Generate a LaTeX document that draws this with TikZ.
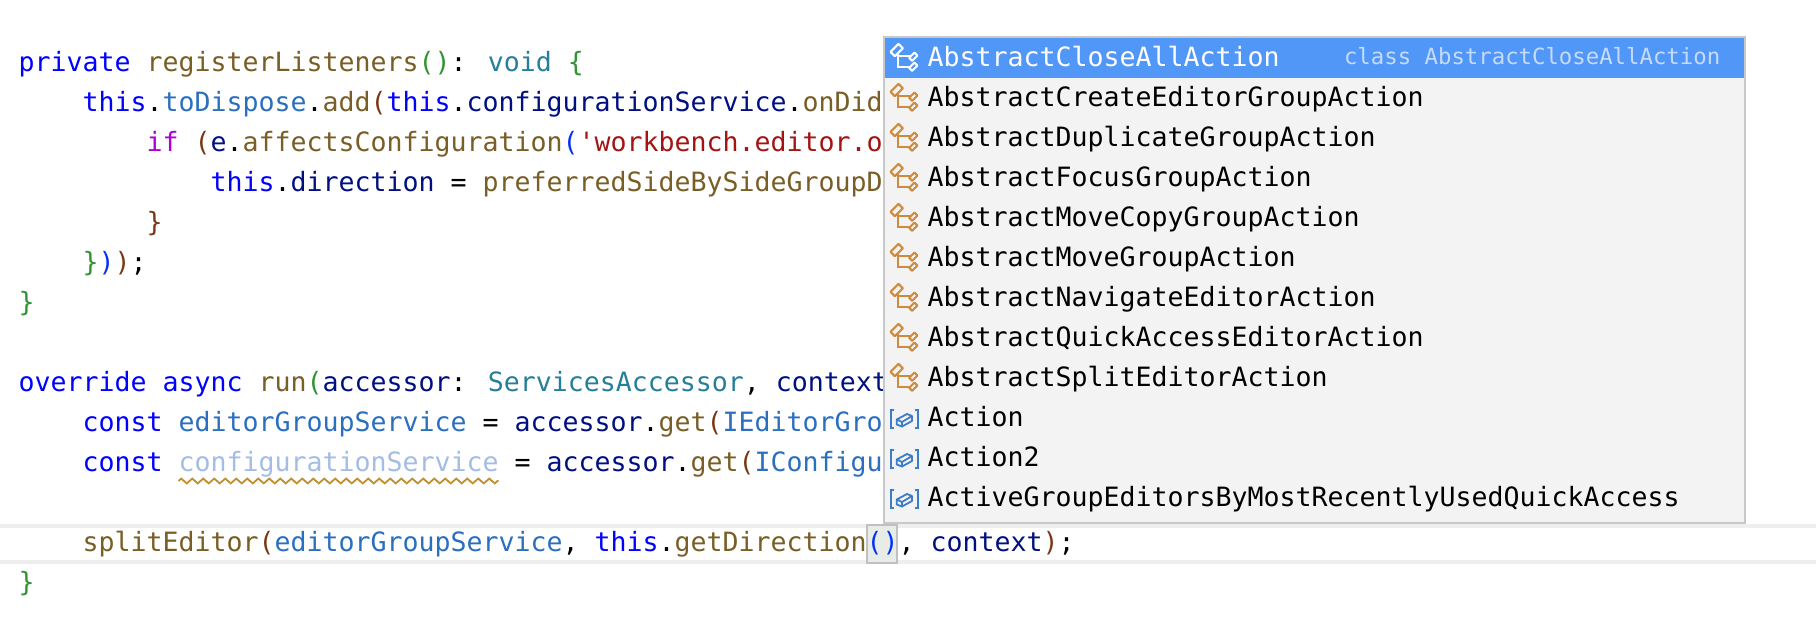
\documentclass[tikz,border=0pt]{standalone}
\usepackage{fontspec}
\usetikzlibrary{decorations.pathmorphing}
\newfontfamily\codefont{DejaVu Sans Mono}
\definecolor{kw}{HTML}{0000FF}
\definecolor{fn}{HTML}{795E26}
\definecolor{vr}{HTML}{001080}
\definecolor{pr}{HTML}{2B6FBF}
\definecolor{ty}{HTML}{267F99}
\definecolor{st}{HTML}{A31515}
\definecolor{pu}{HTML}{AF00DB}
\definecolor{bg}{HTML}{319331}
\definecolor{bb}{HTML}{0431FA}
\definecolor{br}{HTML}{7B3814}
\definecolor{fa}{HTML}{A3BDE3}
\definecolor{squig}{HTML}{BF8F30}
\definecolor{pnl}{HTML}{F3F3F3}
\definecolor{pbd}{HTML}{C8C8C8}
\definecolor{sel}{HTML}{5197F8}
\definecolor{sdt}{HTML}{C6DBFB}
\definecolor{cur}{HTML}{EEEEEE}
\definecolor{brb}{HTML}{E7ECE6}
\definecolor{brd}{HTML}{C0C0C0}
\definecolor{cls}{HTML}{CE8B3E}
\definecolor{mod}{HTML}{3B7DC8}
\newcommand{\kw}[1]{\textcolor{kw}{#1}}
\newcommand{\fn}[1]{\textcolor{fn}{#1}}
\newcommand{\vr}[1]{\textcolor{vr}{#1}}
\newcommand{\pr}[1]{\textcolor{pr}{#1}}
\newcommand{\ty}[1]{\textcolor{ty}{#1}}
\tikzset{
  x=0.5pt,y=-0.5pt,
  code/.style={anchor=base west,inner sep=0pt,outer sep=0pt,font=\fontsize{13.29pt}{16pt}\codefont,text=black},
  item/.style={code},
  clsicon/.pic={
    \draw[pic actions,line width=1.05pt,line join=round]
      (17.9,10.2) -- (13.5,5.8) -- (5.5,13.8) -- (9.9,18.2) -- cycle;
    \draw[pic actions,line width=1.05pt] (13.3,16.5) -- (13.3,28.7) -- (25,28.7) (13.3,17.7) -- (25.5,17.7);
    \draw[pic actions,line width=1.05pt,line join=round]
      (32.4,17.6) -- (29.4,14.6) -- (24.2,19.8) -- (27.2,22.8) -- cycle;
    \draw[pic actions,line width=1.05pt,line join=round]
      (32.4,27.6) -- (29.4,24.6) -- (24.2,29.8) -- (27.2,32.8) -- cycle;
  },
  modicon/.pic={
    \draw[pic actions,line width=1pt] (9,12.5) -- (5.5,12.5) -- (5.5,30) -- (9,30);
    \draw[pic actions,line width=1pt] (29.5,12.5) -- (33,12.5) -- (33,30) -- (29.5,30);
    \draw[pic actions,line width=.9pt,line join=round]
      (11.7,21.5) -- (22,16) -- (27,18) -- (27,23) -- (17,28.5) -- (11.7,26.5) -- cycle
      (11.7,21.5) -- (17,24) -- (27,18) (17,24) -- (17,28.5);
  }
}
\begin{document}
\begin{tikzpicture}
\useasboundingbox (0,0) rectangle (1816,624);
\fill[white] (0,0) rectangle (1816,624);
% current line
\fill[cur] (0,524) rectangle (1816,528);
\fill[cur] (0,560) rectangle (1816,564);
% code
\node[code] (l1) at (18.5,71.7) {\kw{private} \fn{registerListeners}\textcolor{bg}{()}: \ty{void} \textcolor{bg}{\{}};
\node[code] (l2) at (82.5,111.7) {\kw{this}.\pr{toDispose}.\fn{add}\textcolor{br}{(}\kw{this}.\vr{configurationService}.\fn{onDid}};
\node[code] (l3) at (146.5,151.7) {\textcolor{pu}{if} \textcolor{br}{(}\vr{e}.\fn{affectsConfiguration}\textcolor{bb}{(}\textcolor{st}{'workbench.editor.o}};
\node[code] (l4) at (210.5,191.7) {\kw{this}.\vr{direction} = \fn{preferredSideBySideGroupD}};
\node[code] (l5) at (146.5,231.7) {\textcolor{br}{\}}};
\node[code] (l6) at (82.5,271.7) {\textcolor{bg}{\}}\textcolor{bb}{)}\textcolor{br}{)};};
\node[code] (l7) at (18.5,311.7) {\textcolor{bg}{\}}};
\node[code] (l8) at (18.5,391.7) {\kw{override} \kw{async} \fn{run}\textcolor{bg}{(}\vr{accessor}: \ty{ServicesAccessor}, \vr{context}};
\node[code] (l9) at (82.5,431.7) {\kw{const} \pr{editorGroupService} = \vr{accessor}.\fn{get}\textcolor{br}{(}\pr{IEditorGro}};
\node[code] (l10) at (82.5,471.7) {\kw{const} \textcolor{fa}{configurationService} = \vr{accessor}.\fn{get}\textcolor{br}{(}\pr{IConfigu}};
\draw[squig,line width=.9pt,decorate,decoration={zigzag,segment length=5.5pt,amplitude=1.2pt}] (178.5,481) -- (498.5,481);
% bracket highlight
\filldraw[fill=brb,draw=brd,line width=1pt] (867,525) rectangle (897,563);
\node[code] (l11) at (82.5,551.7) {\fn{splitEditor}\textcolor{br}{(}\pr{editorGroupService}, \kw{this}.\fn{getDirection}\textcolor{bb}{()}, \vr{context}\textcolor{br}{)};};
\node[code] (l12) at (18.5,591.7) {\textcolor{bg}{\}}};
% popup
\filldraw[fill=pnl,draw=pbd,line width=1pt] (883.5,37) rectangle (1745,523);
\fill[sel] (884.5,38) rectangle (1744,78);
\node[item,text=white] (s0) at (927.5,66.5) {AbstractCloseAllAction};
\node[item,text=sdt,font=\fontsize{11.16pt}{14pt}\codefont] (s0d) at (1344,64.5) {class AbstractCloseAllAction};
\node[item] (s1) at (927.5,106.5) {AbstractCreateEditorGroupAction};
\node[item] (s2) at (927.5,146.5) {AbstractDuplicateGroupAction};
\node[item] (s3) at (927.5,186.5) {AbstractFocusGroupAction};
\node[item] (s4) at (927.5,226.5) {AbstractMoveCopyGroupAction};
\node[item] (s5) at (927.5,266.5) {AbstractMoveGroupAction};
\node[item] (s6) at (927.5,306.5) {AbstractNavigateEditorAction};
\node[item] (s7) at (927.5,346.5) {AbstractQuickAccessEditorAction};
\node[item] (s8) at (927.5,386.5) {AbstractSplitEditorAction};
\node[item] (s9) at (927.5,426.5) {Action};
\node[item] (s10) at (927.5,466.5) {Action2};
\node[item] (s11) at (927.5,506.5) {ActiveGroupEditorsByMostRecentlyUsedQuickAccess};
% icons
\pic[draw=white] at (885,38) {clsicon};
\foreach \yy in {78,118,158,198,238,278,318,358} {\pic[draw=cls] at (885,\yy) {clsicon};}
\foreach \yy in {398,438,478} {\pic[draw=mod] at (885,\yy) {modicon};}
\end{tikzpicture}
\end{document}
